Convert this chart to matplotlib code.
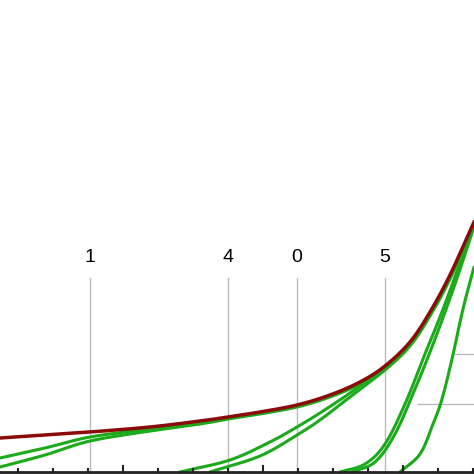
import matplotlib
matplotlib.use("Agg")
import matplotlib.pyplot as plt
import numpy as np

red_x = [0, 45, 90, 150, 200, 228, 260, 297, 330, 360, 385, 410, 430, 450, 474]
red_y = [36, 39, 42, 47, 53, 57, 62, 69, 79, 92, 108, 132, 162, 199, 252]

greens = [
    ([0, 45, 90, 150, 200, 228, 260, 297, 330, 360, 385, 410, 430, 450, 474],
     [16, 26, 37, 45, 51, 56, 61, 68, 78, 91, 107, 131, 161, 198, 251]),
    ([0, 45, 90, 150, 200, 228, 260, 297, 330, 360, 385, 410, 430, 450, 474],
     [7, 19, 33, 43, 50, 55, 60, 67, 77, 90, 106, 130, 160, 197, 250]),
    ([180, 230, 270, 297, 320, 350, 385, 410, 430, 450, 474],
     [2, 14, 32, 47, 61, 81, 107, 130, 160, 197, 250]),
    ([210, 260, 297, 320, 350, 385, 410, 430, 450, 474],
     [2, 18, 39, 54, 77, 104, 128, 158, 195, 249]),
    ([340, 365, 385, 405, 425, 445, 474],
     [2, 10, 30, 70, 120, 170, 250]),
    ([352, 375, 395, 415, 435, 455, 474],
     [2, 12, 40, 85, 135, 190, 247]),
    ([400, 420, 433, 442, 452, 463, 474],
     [2, 20, 50, 75, 115, 165, 207]),
]

labels = ["1", "4", "0", "5"]
label_x = [90, 228, 297, 385]


def smooth(xs, ys, n=20):
    p = np.column_stack([xs, ys]).astype(float)
    p = np.vstack([2 * p[0] - p[1], p, 2 * p[-1] - p[-2]])
    out = []
    for i in range(1, len(p) - 2):
        p0, p1, p2, p3 = p[i - 1], p[i], p[i + 1], p[i + 2]
        for t in np.linspace(0, 1, n, endpoint=False):
            out.append(0.5 * ((2 * p1) + (-p0 + p2) * t + (2 * p0 - 5 * p1 + 4 * p2 - p3) * t ** 2
                              + (-p0 + 3 * p1 - 3 * p2 + p3) * t ** 3))
    out.append(p[-2])
    out = np.array(out)
    return out[:, 0], out[:, 1]


fig = plt.figure(figsize=(4.74, 4.74), dpi=100)
ax = fig.add_axes([0, 0, 1, 1])
ax.set_xlim(0, 474)
ax.set_ylim(0, 474)
ax.axis("off")

for lx, lb in zip(label_x, labels):
    ax.plot([lx, lx], [0, 196], color="#bbbbbb", lw=1)
    ax.text(lx, 217, lb, ha="center", va="center", fontsize=14, family="Liberation Sans")
ax.plot([455, 474], [120, 120], color="#bbbbbb", lw=1)
ax.plot([418, 474], [70, 70], color="#bbbbbb", lw=1)

for gx, gy in greens:
    sx, sy = smooth(gx, gy)
    ax.plot(sx, sy, color="#1aaa1a", lw=2.2, solid_capstyle="round", solid_joinstyle="round")
sx, sy = smooth(red_x, red_y)
ax.plot(sx, sy, color="#8b0a0a", lw=2.5, solid_joinstyle="round")

ax.plot([0, 474], [2, 2], color="#222222", lw=2)
for t in np.arange(18, 474, 35):
    major = abs((t - 123) % 140) < 1
    ax.plot([t, t], [2, 8 if major else 5], color="#222222", lw=1.5)

fig.savefig("out.png", dpi=100)
